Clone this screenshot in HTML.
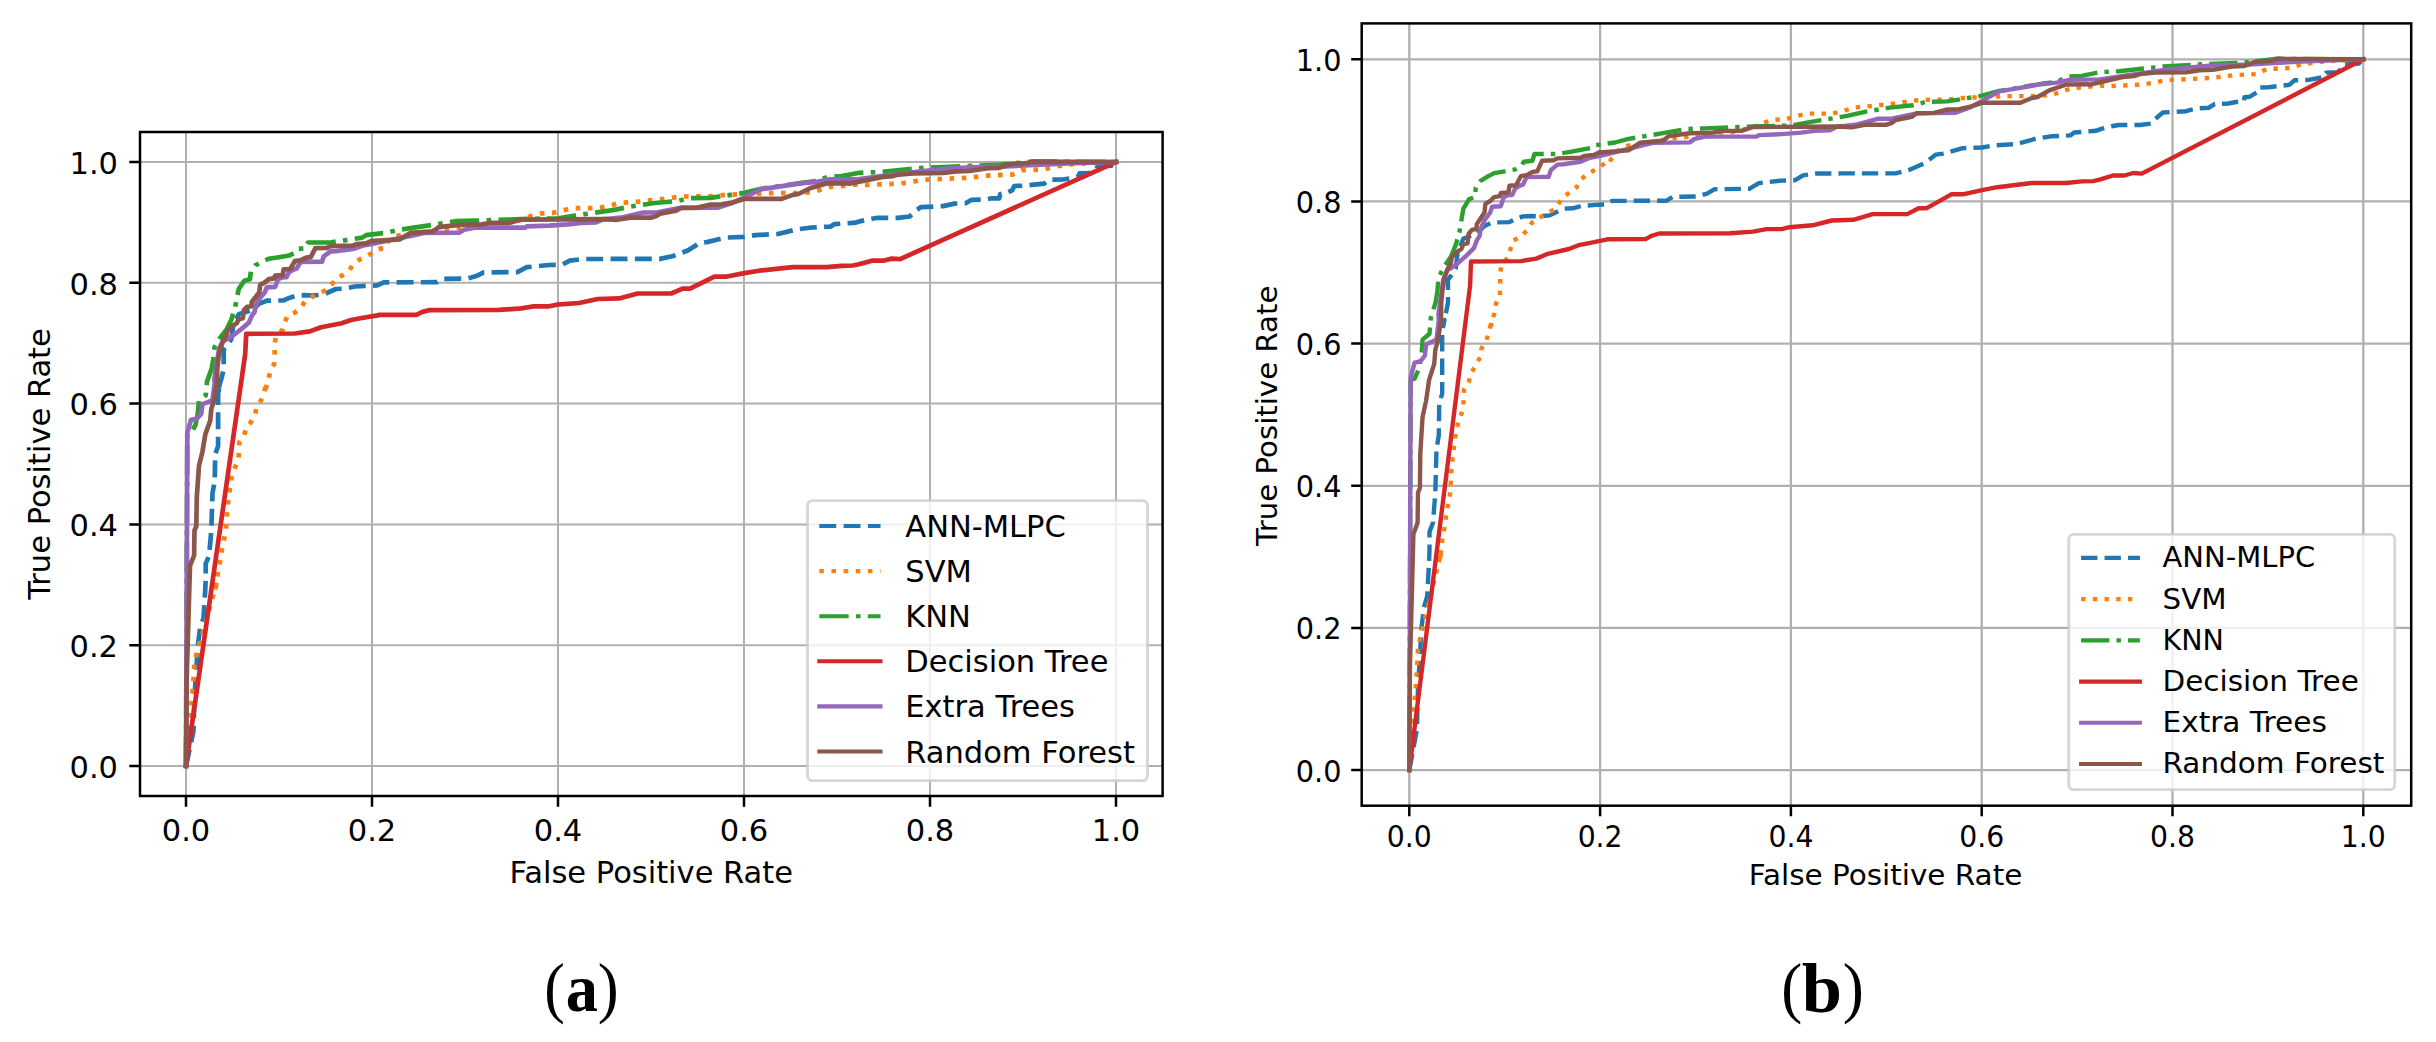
<!DOCTYPE html>
<html><head><meta charset="utf-8"><title>ROC curves</title>
<style>
html,body{margin:0;padding:0;background:#fff}
body{width:2436px;height:1042px;overflow:hidden}
svg{display:block}
</style></head>
<body>
<svg width="2436" height="1042" viewBox="0 0 2436 1042">
<rect width="2436" height="1042" fill="#fff"/>
<g>
<g font-family="'DejaVu Sans','Liberation Sans',sans-serif" font-size="30.5" fill="#000">
<clipPath id="ca"><rect x="140.0" y="132.0" width="1022.5999999999999" height="664.0"/></clipPath>
<path d="M186.00 132.0V796.0M140.0 766.00H1162.6M372.00 132.0V796.0M140.0 645.20H1162.6M558.00 132.0V796.0M140.0 524.40H1162.6M744.00 132.0V796.0M140.0 403.60H1162.6M930.00 132.0V796.0M140.0 282.80H1162.6M1116.00 132.0V796.0M140.0 162.00H1162.6" stroke="#b0b0b0" stroke-width="2.0" fill="none"/>
<g clip-path="url(#ca)" fill="none" stroke-width="4.7" stroke-linejoin="round">
<polyline points="186.0,766.0 193.4,731.6 194.5,696.4 197.9,645.5 200.1,627.9 203.5,618.1 205.3,588.8 205.7,579.0 205.7,563.6 209.1,555.7 211.3,530.3 212.5,493.1 214.7,481.4 215.2,454.0 218.1,446.2 218.1,393.3 220.3,383.5 219.0,386.8 221.8,377.1 223.7,368.9 223.7,349.3 226.5,346.1 231.2,339.5 233.1,326.5 238.7,314.2 244.3,312.6 251.8,310.2 259.3,303.6 266.8,300.7 283.6,300.4 289.2,297.9 296.7,295.5 304.2,295.2 311.7,295.5 322.9,294.7 336.0,289.0 345.4,288.6 354.7,286.5 367.8,285.7 377.2,285.4 382.8,282.8 383.7,282.3 437.0,282.2 442.6,278.9 466.9,278.6 476.3,276.1 483.7,272.4 517.4,272.1 526.8,267.2 549.2,265.0 562.3,264.7 569.8,260.6 582.9,259.0 605.3,259.0 605.9,258.9 660.1,258.9 673.2,256.0 688.2,250.3 699.4,243.0 706.9,242.1 725.6,237.6 744.3,236.9 755.5,235.1 778.0,234.0 796.7,229.4 811.6,227.5 830.3,226.7 834.1,224.2 852.8,222.9 855.2,222.7 860.8,221.1 872.0,218.7 877.6,217.8 898.2,217.8 909.5,216.5 915.1,211.3 920.7,207.2 943.1,206.1 954.4,203.6 965.6,203.2 971.2,199.9 984.3,199.6 991.8,198.3 999.3,198.3 1000.2,194.2 1004.9,193.9 1012.4,190.1 1014.2,186.0 1023.6,185.7 1036.7,184.4 1044.2,183.6 1048.8,179.8 1062.9,179.5 1077.8,177.1 1079.7,173.3 1090.9,173.0 1096.6,168.9 1097.5,166.5 1111.5,165.6 1116.0,162.0" stroke="#1f77b4" stroke-dasharray="16.95,7.33"/>
<polyline points="186.0,766.0 190.0,716.0 191.8,700.3 193.4,680.7 194.5,661.2 199.0,645.5 208.0,614.2 217.0,580.9 215.8,587.5 218.1,571.4 220.3,559.7 222.6,546.0 225.9,530.3 227.1,510.7 229.3,493.1 231.6,477.5 234.9,467.7 238.3,459.9 239.0,452.0 239.4,442.2 243.9,436.4 246.1,428.5 250.6,422.7 255.1,414.8 256.3,408.0 260.7,401.1 264.1,393.3 265.9,383.5 265.8,388.5 268.6,378.7 270.5,369.7 274.2,364.0 274.6,354.2 274.6,343.6 276.1,336.3 282.7,329.7 284.5,323.2 287.4,315.9 294.8,312.6 301.4,306.9 305.1,301.2 311.7,297.1 319.2,293.5 326.7,289.8 331.3,284.9 336.0,278.8 342.6,275.1 349.1,270.7 352.9,264.5 359.4,259.6 366.9,256.0 373.4,252.3 380.9,248.2 380.9,249.2 386.5,242.7 392.1,237.0 399.6,235.4 418.3,232.9 444.5,228.9 455.7,228.0 465.0,226.4 489.4,224.3 500.6,224.0 521.2,219.9 531.4,215.8 541.7,213.4 553.0,212.9 564.2,210.1 574.5,208.1 597.8,208.1 609.1,206.0 619.0,203.0 641.4,201.4 663.9,198.9 675.1,197.3 686.3,196.5 710.6,196.2 725.6,194.9 764.9,193.2 794.8,193.2 811.6,192.4 822.8,189.2 832.2,186.4 843.4,185.9 859.3,184.3 866.4,184.9 900.1,183.6 911.3,182.0 922.5,179.8 967.5,177.9 989.9,175.4 1012.4,174.6 1021.7,170.2 1044.2,169.4 1055.4,166.5 1074.1,164.0 1116.0,162.0" stroke="#ff7f0e" stroke-dasharray="4.58,7.56"/>
<polyline points="186.0,766.0 187.3,434.4 191.1,433.4 195.6,424.6 197.9,412.9 199.0,400.2 205.7,395.3 206.9,383.5 206.9,381.9 211.6,368.9 213.4,359.1 214.4,347.7 220.0,337.9 226.5,329.7 231.2,320.0 234.9,308.5 236.8,298.7 238.7,289.0 244.3,280.8 249.9,279.2 250.9,271.0 255.5,265.3 263.0,261.2 268.6,258.8 278.9,257.2 289.2,255.5 295.8,252.3 297.6,249.0 306.1,248.2 307.9,242.5 330.4,242.5 341.6,240.8 362.2,237.6 366.0,235.1 386.5,232.7 399.6,229.7 433.2,224.8 455.7,221.2 474.4,220.7 521.2,219.1 558.6,218.3 573.5,215.8 612.8,210.1 630.2,206.6 654.5,203.0 676.9,201.1 690.0,198.1 710.6,197.8 744.3,192.9 761.1,188.8 802.3,182.8 817.2,181.0 828.5,176.6 841.6,176.1 859.3,172.8 877.6,172.2 920.7,168.1 954.4,166.5 999.3,164.8 1032.0,161.6 1116.0,162.0" stroke="#2ca02c" stroke-dasharray="29.31,7.33,4.58,7.33"/>
<polyline points="186.0,766.0 245.2,354.2 246.2,333.8 294.8,333.5 309.8,331.4 321.0,327.3 341.6,323.2 351.0,320.0 360.3,318.3 379.1,315.1 379.0,314.9 416.4,314.8 422.0,312.0 429.5,310.1 498.7,309.9 521.2,308.4 534.2,306.3 549.2,306.3 556.7,304.7 579.1,303.0 597.8,299.0 619.0,298.4 637.7,293.5 671.3,293.5 682.6,288.6 690.0,288.6 714.4,276.7 725.6,276.7 744.3,273.1 759.3,270.7 792.9,267.1 826.6,267.1 841.6,265.8 852.8,265.5 858.9,264.3 872.0,260.7 883.3,260.7 891.7,258.6 900.1,259.1 1116.0,162.0" stroke="#d62728" stroke-linecap="square"/>
<polyline points="186.0,766.0 187.3,432.5 191.1,419.7 196.8,418.8 201.2,413.9 202.4,404.1 208.0,402.1 212.5,400.2 214.7,383.5 214.4,378.7 217.2,360.7 219.0,349.3 222.8,341.2 226.5,339.5 233.1,335.5 240.6,329.7 249.0,322.4 251.8,315.9 254.6,311.8 255.5,306.1 259.3,298.7 264.9,292.2 266.8,287.3 275.2,286.8 278.0,279.2 281.7,277.5 286.4,277.2 289.2,271.8 293.9,269.4 296.7,268.6 300.5,262.0 322.0,261.7 323.8,256.3 330.4,251.4 336.0,251.1 352.9,249.0 362.2,245.7 375.3,243.3 416.4,234.6 423.9,232.9 459.4,232.6 464.1,229.7 474.4,227.7 524.9,227.7 526.8,226.4 549.2,225.6 567.9,224.3 581.0,222.8 596.0,222.3 603.5,219.1 605.9,219.0 620.8,217.7 643.3,212.5 656.4,212.5 680.7,207.9 718.1,207.6 733.1,202.7 744.3,197.3 761.1,189.2 802.3,183.1 817.2,181.8 830.3,179.4 859.3,179.0 887.0,175.4 920.7,171.4 946.9,168.9 969.3,167.3 1004.9,166.5 1029.2,165.2 1074.1,163.2 1116.0,162.0" stroke="#9467bd" stroke-linecap="square"/>
<polyline points="186.0,766.0 186.7,676.8 188.9,602.5 189.6,579.0 190.0,565.5 194.1,555.7 194.5,530.3 196.3,526.4 196.8,497.0 199.0,465.7 202.4,452.0 205.3,434.4 210.2,420.7 211.3,409.0 213.6,402.1 217.0,383.5 217.2,368.9 218.5,357.5 220.4,347.7 223.7,339.5 226.5,334.6 227.5,330.6 231.2,326.5 236.8,323.2 238.7,319.1 242.8,318.3 243.9,310.2 247.1,306.9 251.4,306.1 251.8,302.0 259.3,292.2 260.2,284.9 264.9,282.4 268.6,279.2 274.2,278.4 275.2,275.6 282.7,275.1 283.6,269.4 290.2,269.1 294.8,261.2 300.5,260.4 306.1,257.6 310.7,257.2 315.4,248.2 326.7,247.9 330.4,246.2 352.9,245.7 356.6,244.1 366.0,243.3 371.6,240.8 371.5,241.1 399.6,239.4 410.8,232.9 433.2,231.3 438.8,227.2 450.1,225.9 459.4,224.8 481.9,224.3 491.2,222.8 509.9,222.8 521.2,219.6 605.3,219.1 617.1,219.8 630.2,217.7 650.8,217.7 656.4,216.1 660.1,213.6 676.0,210.8 680.7,207.9 697.5,207.6 710.6,204.6 721.8,204.3 733.1,202.2 744.3,198.9 781.7,198.9 792.9,194.9 798.5,194.0 809.8,188.3 826.6,183.4 847.2,183.1 849.6,183.6 881.4,177.1 892.6,176.2 898.2,174.6 913.2,173.3 943.1,173.0 956.2,171.4 969.3,171.0 988.0,168.1 999.3,167.8 1010.5,164.0 1027.3,163.2 1032.0,161.6 1116.0,162.0" stroke="#8c564b" stroke-linecap="square"/>
</g>
<rect x="140.0" y="132.0" width="1022.5999999999999" height="664.0" fill="none" stroke="#000" stroke-width="2.5"/>
<path d="M186.00 796.0v10.7M140.0 766.00h-10.7M372.00 796.0v10.7M140.0 645.20h-10.7M558.00 796.0v10.7M140.0 524.40h-10.7M744.00 796.0v10.7M140.0 403.60h-10.7M930.00 796.0v10.7M140.0 282.80h-10.7M1116.00 796.0v10.7M140.0 162.00h-10.7" stroke="#000" stroke-width="2.5" fill="none"/>
<text transform="translate(186.00,841.40)" text-anchor="middle">0.0</text>
<text transform="translate(118.00,777.70)" text-anchor="end">0.0</text>
<text transform="translate(372.00,841.40)" text-anchor="middle">0.2</text>
<text transform="translate(118.00,656.90)" text-anchor="end">0.2</text>
<text transform="translate(558.00,841.40)" text-anchor="middle">0.4</text>
<text transform="translate(118.00,536.10)" text-anchor="end">0.4</text>
<text transform="translate(744.00,841.40)" text-anchor="middle">0.6</text>
<text transform="translate(118.00,415.30)" text-anchor="end">0.6</text>
<text transform="translate(930.00,841.40)" text-anchor="middle">0.8</text>
<text transform="translate(118.00,294.50)" text-anchor="end">0.8</text>
<text transform="translate(1116.00,841.40)" text-anchor="middle">1.0</text>
<text transform="translate(118.00,173.70)" text-anchor="end">1.0</text>
<text transform="translate(651.30,883.00)" text-anchor="middle">False Positive Rate</text>
<text transform="translate(50.00,464.00) rotate(-90)" text-anchor="middle">True Positive Rate</text>
<rect x="807.5" y="500.6" width="340.0" height="280.0" rx="5" fill="#fff" fill-opacity="0.8" stroke="#ccc" stroke-opacity="0.8" stroke-width="2.8"/>
<path d="M819.3 526.00H880.5" stroke="#1f77b4" stroke-width="4.1" fill="none" stroke-dasharray="16.95,7.33"/>
<text transform="translate(905.30,537.00)">ANN-MLPC</text>
<path d="M819.3 571.10H880.5" stroke="#ff7f0e" stroke-width="4.1" fill="none" stroke-dasharray="4.58,7.56"/>
<text transform="translate(905.30,582.10)">SVM</text>
<path d="M819.3 616.20H880.5" stroke="#2ca02c" stroke-width="4.1" fill="none" stroke-dasharray="29.31,7.33,4.58,7.33"/>
<text transform="translate(905.30,627.20)">KNN</text>
<path d="M819.3 661.30H880.5" stroke="#d62728" stroke-width="4.1" fill="none" stroke-linecap="square"/>
<text transform="translate(905.30,672.30)">Decision Tree</text>
<path d="M819.3 706.40H880.5" stroke="#9467bd" stroke-width="4.1" fill="none" stroke-linecap="square"/>
<text transform="translate(905.30,717.40)">Extra Trees</text>
<path d="M819.3 751.50H880.5" stroke="#8c564b" stroke-width="4.1" fill="none" stroke-linecap="square"/>
<text transform="translate(905.30,762.50)">Random Forest</text>
</g>
<g font-family="'DejaVu Sans','Liberation Sans',sans-serif" font-size="29.5" fill="#000">
<clipPath id="cb"><rect x="1361.7" y="23.4" width="1049.4999999999998" height="782.3000000000001"/></clipPath>
<path d="M1409.30 23.4V805.7M1361.7 770.10H2411.2M1600.10 23.4V805.7M1361.7 627.94H2411.2M1790.90 23.4V805.7M1361.7 485.78H2411.2M1981.70 23.4V805.7M1361.7 343.62H2411.2M2172.50 23.4V805.7M1361.7 201.46H2411.2M2363.30 23.4V805.7M1361.7 59.30H2411.2" stroke="#b0b0b0" stroke-width="2.3" fill="none"/>
<g clip-path="url(#cb)" fill="none" stroke-width="4.4" stroke-linejoin="round">
<polyline points="1409.3,770.1 1416.9,729.6 1418.0,688.2 1421.5,628.3 1423.8,607.6 1427.2,596.1 1429.1,561.5 1429.5,550.0 1429.5,531.9 1433.0,522.7 1435.3,492.7 1436.5,449.0 1438.8,435.2 1439.2,402.9 1442.2,393.7 1442.2,331.5 1444.5,320.0 1443.2,323.9 1446.1,312.4 1448.0,302.8 1448.0,279.7 1450.9,275.9 1455.7,268.2 1457.6,252.9 1463.4,238.5 1469.1,236.5 1476.8,233.7 1484.5,226.0 1492.1,222.5 1509.4,222.1 1515.2,219.3 1522.9,216.4 1530.5,216.0 1538.2,216.4 1549.7,215.4 1563.2,208.7 1572.8,208.3 1582.4,205.8 1595.8,204.9 1605.4,204.5 1611.2,201.4 1612.1,200.9 1666.8,200.7 1672.5,196.9 1697.5,196.5 1707.0,193.6 1714.7,189.2 1749.3,188.8 1758.9,183.1 1781.9,180.6 1795.3,180.2 1803.0,175.4 1816.4,173.5 1839.4,173.5 1840.0,173.4 1895.6,173.4 1909.1,169.9 1924.4,163.2 1935.9,154.6 1943.6,153.6 1962.8,148.2 1982.0,147.5 1993.5,145.4 2016.5,144.0 2035.7,138.7 2051.1,136.3 2070.3,135.4 2074.1,132.5 2093.3,131.0 2095.8,130.8 2101.5,128.8 2113.0,126.0 2118.8,125.0 2139.9,125.0 2151.4,123.5 2157.2,117.3 2162.9,112.5 2186.0,111.2 2197.5,108.3 2209.0,107.7 2214.8,103.9 2228.2,103.5 2235.9,102.0 2243.6,102.0 2244.5,97.2 2249.3,96.8 2257.0,92.4 2258.9,87.6 2268.5,87.2 2281.9,85.7 2289.6,84.7 2294.4,80.3 2308.8,79.9 2324.2,77.0 2326.1,72.6 2337.6,72.2 2343.4,67.4 2344.3,64.5 2358.7,63.6 2363.3,59.3" stroke="#1f77b4" stroke-dasharray="16.35,7.07"/>
<polyline points="1409.3,770.1 1413.4,711.2 1415.3,692.8 1416.9,669.8 1418.0,646.7 1422.6,628.3 1431.8,591.5 1441.1,552.3 1439.9,560.0 1442.2,541.1 1444.5,527.3 1446.8,511.2 1450.3,492.7 1451.4,469.7 1453.7,449.0 1456.0,430.5 1459.5,419.0 1462.9,409.8 1463.6,400.6 1464.1,389.1 1468.7,382.2 1471.0,373.0 1475.6,366.1 1480.2,356.8 1481.4,348.8 1486.0,340.7 1489.4,331.5 1491.3,320.0 1491.2,325.8 1494.1,314.3 1496.0,303.7 1499.8,297.0 1500.2,285.5 1500.2,273.0 1501.7,264.4 1508.5,256.7 1510.4,249.0 1513.3,240.4 1520.9,236.5 1527.7,229.8 1531.5,223.1 1538.2,218.3 1545.9,214.1 1553.6,209.7 1558.4,203.9 1563.2,196.8 1569.9,192.4 1576.6,187.2 1580.5,179.9 1587.2,174.2 1594.9,169.9 1601.6,165.5 1609.3,160.7 1609.2,162.0 1614.9,154.3 1620.7,147.6 1628.4,145.6 1647.6,142.8 1674.4,138.0 1685.9,137.0 1695.5,135.1 1720.5,132.6 1732.0,132.2 1753.1,127.4 1763.7,122.6 1774.2,119.7 1785.7,119.2 1797.2,115.9 1807.8,113.6 1831.8,113.6 1843.3,111.1 1853.4,107.6 1876.5,105.6 1899.5,102.8 1911.0,100.8 1922.5,99.9 1947.5,99.5 1962.8,98.0 2003.1,96.1 2033.8,96.1 2051.1,95.1 2062.6,91.3 2072.2,88.0 2083.7,87.4 2100.0,85.5 2107.3,86.2 2141.8,84.7 2153.3,82.8 2164.9,80.3 2210.9,78.0 2234.0,75.1 2257.0,74.1 2266.6,69.0 2289.6,68.0 2301.1,64.5 2320.3,61.7 2363.3,59.3" stroke="#ff7f0e" stroke-dasharray="4.42,7.29"/>
<polyline points="1409.3,770.1 1410.7,379.9 1414.6,378.7 1419.2,368.4 1421.5,354.5 1422.6,339.6 1429.5,333.8 1430.7,320.0 1430.7,318.1 1435.5,302.8 1437.4,291.3 1438.4,277.8 1444.2,266.3 1450.9,256.7 1455.7,245.2 1459.5,231.7 1461.4,220.2 1463.4,208.7 1469.1,199.1 1474.9,197.2 1475.8,187.6 1480.6,180.9 1488.3,176.1 1494.1,173.2 1504.6,171.3 1515.2,169.4 1521.9,165.5 1523.8,161.7 1532.5,160.7 1534.4,154.0 1557.4,154.0 1568.9,152.1 1590.1,148.2 1593.9,145.4 1615.0,142.5 1628.4,138.9 1662.9,133.2 1685.9,129.0 1705.1,128.4 1753.1,126.5 1791.5,125.5 1806.8,122.6 1847.1,115.9 1864.9,111.8 1889.9,107.6 1912.9,105.3 1926.3,101.8 1947.5,101.4 1982.0,95.7 1999.3,90.9 2041.5,83.8 2056.8,81.7 2068.3,76.5 2081.8,75.9 2100.0,72.1 2118.8,71.3 2162.9,66.5 2197.5,64.5 2243.6,62.6 2277.1,58.8 2363.3,59.3" stroke="#2ca02c" stroke-dasharray="28.29,7.07,4.42,7.07"/>
<polyline points="1409.3,770.1 1470.1,285.5 1471.0,261.5 1520.9,261.1 1536.3,258.6 1547.8,253.8 1568.9,249.0 1578.5,245.2 1588.1,243.3 1607.3,239.4 1607.3,239.3 1645.6,239.1 1651.4,235.8 1659.1,233.5 1730.1,233.3 1753.1,231.6 1766.5,229.1 1781.9,229.1 1789.6,227.2 1812.6,225.3 1831.8,220.5 1853.4,219.8 1872.6,214.1 1907.2,214.1 1918.7,208.3 1926.3,208.3 1951.3,194.3 1962.8,194.3 1982.0,190.1 1997.3,187.2 2031.9,183.0 2066.4,183.0 2081.8,181.4 2093.3,181.1 2099.6,179.7 2113.0,175.5 2124.5,175.5 2133.2,173.0 2141.8,173.6 2363.3,59.3" stroke="#d62728" stroke-linecap="square"/>
<polyline points="1409.3,770.1 1410.7,377.6 1414.6,362.6 1420.3,361.5 1424.9,355.7 1426.1,344.2 1431.8,341.9 1436.5,339.6 1438.8,320.0 1438.4,314.3 1441.3,293.2 1443.2,279.7 1447.0,270.1 1450.9,268.2 1457.6,263.4 1465.3,256.7 1473.9,248.1 1476.8,240.4 1479.7,235.6 1480.6,228.9 1484.5,220.2 1490.2,212.5 1492.1,206.8 1500.8,206.2 1503.7,197.2 1507.5,195.3 1512.3,194.9 1515.2,188.6 1520.0,185.7 1522.9,184.7 1526.7,177.0 1548.8,176.7 1550.7,170.3 1557.4,164.6 1563.2,164.2 1580.5,161.7 1590.1,157.8 1603.5,155.0 1645.6,144.7 1653.3,142.8 1689.8,142.4 1694.6,138.9 1705.1,136.6 1756.9,136.6 1758.9,135.1 1781.9,134.1 1801.1,132.6 1814.5,130.9 1829.9,130.3 1837.5,126.5 1840.0,126.4 1855.4,124.8 1878.4,118.7 1891.8,118.7 1916.8,113.3 1955.1,112.9 1970.5,107.2 1982.0,100.8 1999.3,91.3 2041.5,84.2 2056.8,82.6 2070.3,79.7 2100.0,79.4 2128.4,75.1 2162.9,70.3 2189.8,67.4 2212.8,65.5 2249.3,64.5 2274.3,63.0 2320.3,60.7 2363.3,59.3" stroke="#9467bd" stroke-linecap="square"/>
<polyline points="1409.3,770.1 1410.0,665.2 1412.3,577.6 1413.0,550.0 1413.4,534.2 1417.6,522.7 1418.0,492.7 1419.9,488.1 1420.3,453.6 1422.6,416.7 1426.1,400.6 1429.1,379.9 1434.2,363.8 1435.3,349.9 1437.6,341.9 1441.1,320.0 1441.3,302.8 1442.6,289.3 1444.5,277.8 1448.0,268.2 1450.9,262.5 1451.8,257.7 1455.7,252.9 1461.4,249.0 1463.4,244.2 1467.6,243.3 1468.7,233.7 1472.0,229.8 1476.4,228.9 1476.8,224.1 1484.5,212.5 1485.4,203.9 1490.2,201.0 1494.1,197.2 1499.8,196.2 1500.8,193.0 1508.5,192.4 1509.4,185.7 1516.1,185.3 1520.9,176.1 1526.7,175.1 1532.5,171.9 1537.3,171.3 1542.1,160.7 1553.6,160.3 1557.4,158.4 1580.5,157.8 1584.3,155.9 1593.9,155.0 1599.7,152.1 1599.6,152.4 1628.4,150.4 1639.9,142.8 1662.9,140.8 1668.7,136.1 1680.2,134.5 1689.8,133.2 1712.8,132.6 1722.4,130.9 1741.6,130.9 1753.1,127.0 1839.4,126.5 1851.5,127.3 1864.9,124.8 1886.1,124.8 1891.8,122.9 1895.6,120.0 1912.0,116.8 1916.8,113.3 1934.0,112.9 1947.5,109.5 1959.0,109.1 1970.5,106.6 1982.0,102.8 2020.4,102.8 2031.9,98.0 2037.6,97.0 2049.2,90.3 2066.4,84.5 2087.5,84.2 2090.0,84.7 2122.6,77.0 2134.1,76.1 2139.9,74.1 2155.3,72.6 2186.0,72.2 2199.4,70.3 2212.8,69.9 2232.0,66.5 2243.6,66.1 2255.1,61.7 2272.3,60.7 2277.1,58.8 2363.3,59.3" stroke="#8c564b" stroke-linecap="square"/>
</g>
<rect x="1361.7" y="23.4" width="1049.4999999999998" height="782.3000000000001" fill="none" stroke="#000" stroke-width="2.5"/>
<path d="M1409.30 805.7v10.5M1361.7 770.10h-10.5M1600.10 805.7v10.5M1361.7 627.94h-10.5M1790.90 805.7v10.5M1361.7 485.78h-10.5M1981.70 805.7v10.5M1361.7 343.62h-10.5M2172.50 805.7v10.5M1361.7 201.46h-10.5M2363.30 805.7v10.5M1361.7 59.30h-10.5" stroke="#000" stroke-width="2.5" fill="none"/>
<text transform="translate(1409.30,847.10) scale(0.9580,1.0000)" text-anchor="middle">0.0</text>
<text transform="translate(1341.50,781.60) scale(0.9750,1.0000)" text-anchor="end">0.0</text>
<text transform="translate(1600.10,847.10) scale(0.9580,1.0000)" text-anchor="middle">0.2</text>
<text transform="translate(1341.50,639.44) scale(0.9750,1.0000)" text-anchor="end">0.2</text>
<text transform="translate(1790.90,847.10) scale(0.9580,1.0000)" text-anchor="middle">0.4</text>
<text transform="translate(1341.50,497.28) scale(0.9750,1.0000)" text-anchor="end">0.4</text>
<text transform="translate(1981.70,847.10) scale(0.9580,1.0000)" text-anchor="middle">0.6</text>
<text transform="translate(1341.50,355.12) scale(0.9750,1.0000)" text-anchor="end">0.6</text>
<text transform="translate(2172.50,847.10) scale(0.9580,1.0000)" text-anchor="middle">0.8</text>
<text transform="translate(1341.50,212.96) scale(0.9750,1.0000)" text-anchor="end">0.8</text>
<text transform="translate(2363.30,847.10) scale(0.9580,1.0000)" text-anchor="middle">1.0</text>
<text transform="translate(1341.50,70.80) scale(0.9750,1.0000)" text-anchor="end">1.0</text>
<text transform="translate(1885.55,885.00) scale(0.9980,0.9440)" text-anchor="middle">False Positive Rate</text>
<text transform="translate(1276.50,415.75) rotate(-90) scale(0.9910,0.9600)" text-anchor="middle">True Positive Rate</text>
<rect x="2068.8" y="534.4" width="326.0" height="255.3" rx="5" fill="#fff" fill-opacity="0.8" stroke="#ccc" stroke-opacity="0.8" stroke-width="2.8"/>
<path d="M2081.1 557.90H2139.9" stroke="#1f77b4" stroke-width="4.1" fill="none" stroke-dasharray="16.35,7.07"/>
<text transform="translate(2162.50,567.30) scale(0.9840,0.9400)">ANN-MLPC</text>
<path d="M2081.1 599.13H2138.7000000000003" stroke="#ff7f0e" stroke-width="4.1" fill="none" stroke-dasharray="4.42,7.29"/>
<text transform="translate(2162.50,608.53) scale(0.9950,0.9400)">SVM</text>
<path d="M2081.1 640.36H2139.9" stroke="#2ca02c" stroke-width="4.1" fill="none" stroke-dasharray="28.29,7.07,4.42,7.07"/>
<text transform="translate(2162.50,649.76) scale(0.9680,0.9400)">KNN</text>
<path d="M2081.1 681.59H2139.9" stroke="#d62728" stroke-width="4.1" fill="none" stroke-linecap="square"/>
<text transform="translate(2162.50,690.99) scale(1.0000,0.9400)">Decision Tree</text>
<path d="M2081.1 722.82H2139.9" stroke="#9467bd" stroke-width="4.1" fill="none" stroke-linecap="square"/>
<text transform="translate(2162.50,732.22) scale(1.0020,0.9400)">Extra Trees</text>
<path d="M2081.1 764.05H2139.9" stroke="#8c564b" stroke-width="4.1" fill="none" stroke-linecap="square"/>
<text transform="translate(2162.50,773.45) scale(1.0000,0.9400)">Random Forest</text>
</g>
<g font-family="'Liberation Serif','DejaVu Serif',serif" font-size="100" fill="#000">
<text transform="translate(544.13,1010.47) scale(0.6187,0.6869)">(</text>
<text transform="translate(565.84,1011.23) scale(0.6446,0.6733)" font-weight="bold">a</text>
<text transform="translate(597.79,1010.47) scale(0.6284,0.6869)">)</text>
<text transform="translate(1781.13,1010.47) scale(0.6304,0.6869)">(</text>
<text transform="translate(1801.81,1011.50) scale(0.7227,0.7017)" font-weight="bold">b</text>
<text transform="translate(1842.67,1010.47) scale(0.6342,0.6869)">)</text>
</g>
</g>
</svg>
</body></html>
